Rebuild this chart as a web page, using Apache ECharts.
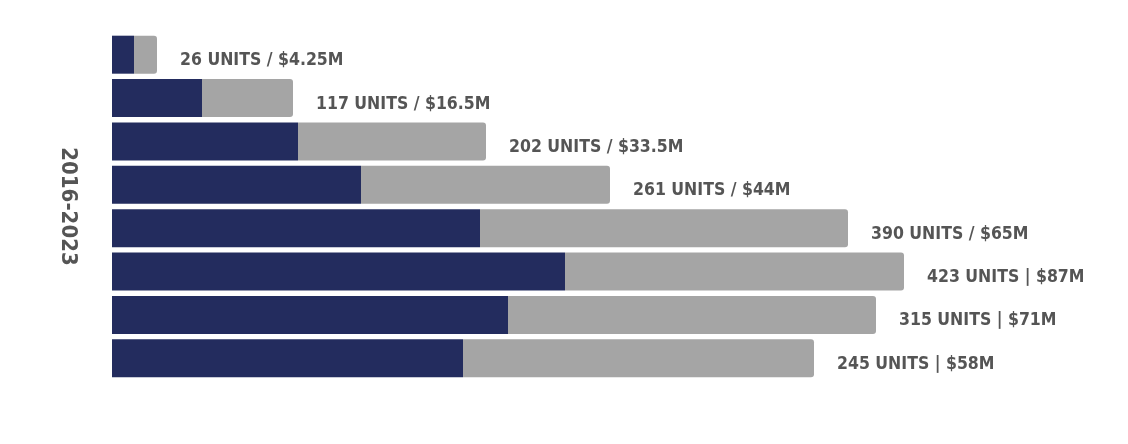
<!DOCTYPE html>
<html>
<head>
<meta charset="utf-8">
<script src="https://cdn.jsdelivr.net/npm/echarts@6/dist/echarts.min.js"></script>
<style>
  html, body { margin: 0; padding: 0; background: #fff; }
  #chart { width: 1128px; height: 444px; }
</style>
</head>
<body>
<div id="chart"></div>
<script>
// one row per year, 2016 at the top
const years = ['2016', '2017', '2018', '2019', '2020', '2021', '2022', '2023'];
// navy part and grey part of each bar
const navyPart = [22, 90, 186, 249, 368, 453, 396, 351];
const greyPart = [23, 91, 188, 249, 368, 339, 368, 351];
// text shown after each bar
const barLabels = [
  '26 UNITS / $4.25M',
  '117 UNITS / $16.5M',
  '202 UNITS / $33.5M',
  '261 UNITS / $44M',
  '390 UNITS / $65M',
  '423 UNITS | $87M',
  '315 UNITS | $71M',
  '245 UNITS | $58M'
];

const font = '"DejaVu Sans Condensed", "Liberation Sans Narrow", sans-serif';

const chart = echarts.init(document.getElementById('chart'));

chart.setOption({
  animation: false,
  grid: { left: 112, top: 33, width: 1000, height: 347 },
  xAxis: {
    type: 'value',
    min: 0,
    max: 1000,
    show: false
  },
  yAxis: {
    type: 'category',
    data: years,
    inverse: true,
    name: '2016-2023',
    nameLocation: 'middle',
    nameRotate: -90,
    nameGap: 33,
    nameTextStyle: {
      fontFamily: font,
      fontWeight: 'bold',
      fontSize: 22,
      color: '#555'
    },
    axisLine: { show: false },
    axisTick: { show: false },
    axisLabel: { show: false },
    splitLine: { show: false }
  },
  series: [
    {
      type: 'bar',
      stack: 'total',
      data: navyPart,
      barWidth: 38,
      itemStyle: { color: '#232c5e' }
    },
    {
      type: 'bar',
      stack: 'total',
      data: greyPart,
      barWidth: 38,
      itemStyle: { color: '#a5a5a5', borderRadius: [0, 3, 3, 0] },
      label: {
        show: true,
        position: 'right',
        distance: 23,
        offset: [0, 6],
        formatter: p => barLabels[p.dataIndex],
        fontFamily: font,
        fontWeight: 'bold',
        fontSize: 17.5,
        color: '#555'
      }
    }
  ]
});
</script>
</body>
</html>
